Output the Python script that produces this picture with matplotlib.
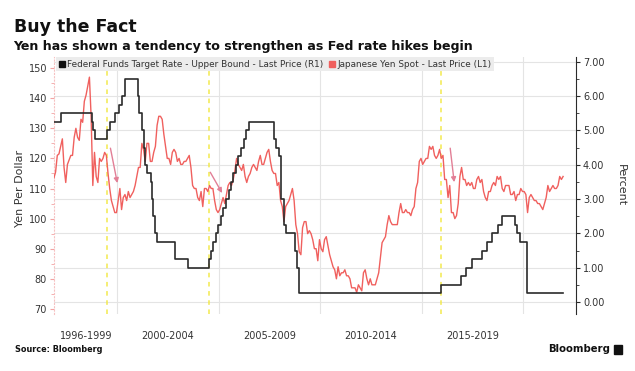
import numpy as np
import pandas as pd
import matplotlib
matplotlib.use("Agg")
import matplotlib.pyplot as plt
from matplotlib.lines import Line2D
from matplotlib.patches import Rectangle
from matplotlib.transforms import blended_transform_factory

# USD/JPY, monthly readings (Nov 1996 .. Dec 2021)
yen_1996_1999 = [113.5, 115.5,
                 121, 121.5, 124, 126.5, 117, 112, 118, 119.5, 121, 121, 127, 130,
                 127, 126, 133, 132, 139, 141, 144, 147, 134, 111, 122, 114,
                 112, 120, 119, 120, 122, 121, 115, 110, 106, 104, 102, 102]
yen_2000_2004 = [106, 110, 103, 107, 108, 106, 109, 107, 108, 109, 111, 114,
                 117, 117, 125, 123, 119, 125, 125, 119, 119, 122, 124, 131,
                 134, 134, 133, 128, 124, 120, 120, 118, 122, 123, 122, 119,
                 120, 118, 118, 119, 119, 120, 121, 117, 111, 110, 110, 107,
                 106, 109, 104, 110, 110, 109, 111, 110, 110, 106, 103, 102]
yen_2005_2009 = [103, 105, 107, 105, 108, 111, 112, 111, 113, 116, 120, 118,
                 117, 116, 118, 114, 112, 114, 115, 117, 118, 117, 116, 119,
                 121, 118, 118, 120, 122, 123, 119, 116, 115, 115, 111, 112,
                 106, 104, 99, 104, 105, 106, 108, 110, 106, 98, 95, 89,
                 88, 97, 99, 99, 95, 96, 95, 93, 90, 90, 86, 93]
yen_2010_2014 = [90, 89, 93, 94, 91, 88, 86, 84, 83, 80, 84, 81,
                 82, 82, 83, 81, 81, 80, 77, 77, 77, 75.5, 78, 77,
                 76, 82, 83, 80, 78, 80, 78, 78, 78, 80, 82, 87,
                 92, 93, 94, 98, 101, 99, 98, 98, 98, 98, 102, 105,
                 102, 102, 103, 102, 102, 101, 103, 104, 110, 112, 119, 120]
yen_2015_2021 = [118, 119, 120, 120, 124, 123, 124, 121, 120, 121, 123, 120,
                 121, 113, 113, 107, 111, 102, 102, 100, 101, 105, 114, 117,
                 113, 113, 111, 112, 111, 112, 110, 110, 113, 114, 112, 113,
                 109, 107, 106, 109, 109, 111, 112, 111, 114, 113, 114, 110,
                 109, 111, 111, 111, 108, 108, 109, 106, 108, 108, 110, 109,
                 109, 108, 102, 107, 108, 107, 106, 106, 105, 105, 104, 103,
                 105, 107, 111, 109, 110, 111, 110, 110, 111, 114, 113, 114]

# Fed funds target rate, upper bound: dates of changes and new level
fed_dates = ['1996-11-15', '1997-03-25', '1998-09-29', '1998-10-15', '1998-11-17',
             '1999-06-30', '1999-08-24', '1999-11-16', '2000-02-02', '2000-03-21',
             '2000-05-16', '2001-01-03', '2001-01-31', '2001-03-20', '2001-04-18',
             '2001-05-15', '2001-06-27', '2001-08-21', '2001-09-17', '2001-10-02',
             '2001-11-06', '2001-12-11', '2002-11-06', '2003-06-25', '2004-06-30',
             '2004-08-10', '2004-09-21', '2004-11-10', '2004-12-14', '2005-02-02',
             '2005-03-22', '2005-05-03', '2005-06-30', '2005-08-09', '2005-09-20',
             '2005-11-01', '2005-12-13', '2006-01-31', '2006-03-28', '2006-05-10',
             '2006-06-29', '2007-09-18', '2007-10-31', '2007-12-11', '2008-01-22',
             '2008-01-30', '2008-03-18', '2008-04-30', '2008-10-08', '2008-10-29',
             '2008-12-16', '2015-12-16', '2016-12-14', '2017-03-15', '2017-06-14',
             '2017-12-13', '2018-03-21', '2018-06-13', '2018-09-26', '2018-12-19',
             '2019-07-31', '2019-09-18', '2019-10-30', '2020-03-03', '2020-03-15',
             '2021-12-15']
fed_rates = [5.25, 5.50, 5.25, 5.00, 4.75,
             5.00, 5.25, 5.50, 5.75, 6.00,
             6.50, 6.00, 5.50, 5.00, 4.50,
             4.00, 3.75, 3.50, 3.00, 2.50,
             2.00, 1.75, 1.25, 1.00, 1.25,
             1.50, 1.75, 2.00, 2.25, 2.50,
             2.75, 3.00, 3.25, 3.50, 3.75,
             4.00, 4.25, 4.50, 4.75, 5.00,
             5.25, 4.75, 4.50, 4.25, 3.50,
             3.00, 2.25, 2.00, 1.50, 1.00,
             0.25, 0.50, 0.75, 1.00, 1.25,
             1.50, 1.75, 2.00, 2.25, 2.50,
             2.25, 2.00, 1.75, 1.25, 0.25,
             0.25]

hike_starts = ['1999-06-30', '2004-06-30', '2015-12-16']
# arrows after each hike start: (date, yen) at tail and at head
arrow_from = [('1999-08-30', 123.4), ('2004-07-30', 115.4), ('2016-05-25', 123.4)]
arrow_to = [('2000-01-01', 111.8), ('2005-03-01', 108.5), ('2016-08-05', 112.1)]

period_labels = ['1996-1999', '2000-2004', '2005-2009', '2010-2014', '2015-2019']
period_centers = [1998.45, 2002.5, 2007.5, 2012.5, 2017.5]
period_bounds = [2000, 2005, 2010, 2015, 2020]
yen_ticks = [70, 80, 90, 100, 110, 120, 130, 140, 150]
pct_ticks = [0, 1, 2, 3, 4, 5, 6, 7]


def dec_year(s):
    d = pd.Timestamp(s)
    return d.year + (d.dayofyear - 1) / 365.25


yen = np.array(yen_1996_1999 + yen_2000_2004 + yen_2005_2009 + yen_2010_2014 + yen_2015_2021)
yen_x = 1996 + (10 + np.arange(len(yen)) + 0.5) / 12
fed_x = [dec_year(d) for d in fed_dates]

RED = '#f0605e'
BLACK = '#2b2b2b'
GRID = '#e4e4e4'
TXT = '#333333'

fig = plt.figure(figsize=(6.35, 3.71), dpi=100)
ax = fig.add_axes([54 / 635, 1 - 314 / 371, 522 / 635, 257 / 371])
ax2 = ax.twinx()

x0 = 1996.88
ax.set_xlim(x0, x0 + 522 / 20.3)
ax.set_ylim(68.3, 153.7)
ax2.set_ylim(-0.35, 7.14)

# grid: verticals at period bounds, horizontals following the right axis
for b in period_bounds:
    ax.axvline(b, color=GRID, lw=0.8, zorder=0)
tr = blended_transform_factory(ax.transAxes, ax2.transData)
for p in pct_ticks:
    ax.plot([0, 1], [p, p], transform=tr, color=GRID, lw=0.8, zorder=0)

for h in hike_starts:
    ax.axvline(dec_year(h), color='#f2e94e', lw=1.1, ls=(0, (3, 3)), zorder=1)

ax.plot(yen_x, yen, color=RED, lw=1.0, zorder=3)
ax2.plot(fed_x, fed_rates, color=BLACK, lw=1.2, drawstyle='steps-post', zorder=3)

for (d0, v0), (d1, v1) in zip(arrow_from, arrow_to):
    ax.annotate('', xy=(dec_year(d1), v1), xytext=(dec_year(d0), v0),
                arrowprops=dict(arrowstyle='-|>', color='#e27f96', lw=1.0,
                                mutation_scale=7, shrinkA=0, shrinkB=0), zorder=4)

# left axis (yen)
ax.set_yticks(yen_ticks)
ax.set_yticks(np.arange(70, 155, 5), minor=True)
ax.tick_params(axis='y', which='major', colors='#f3a3a3', labelcolor=TXT,
               labelsize=7, length=3, width=0.8, pad=2)
ax.tick_params(axis='y', which='minor', colors='#f3a3a3', length=2, width=0.6)
ax.spines['left'].set_color('#f6c2c2')
ax.spines['left'].set_linestyle((0, (1, 2)))
ax.spines['left'].set_linewidth(0.8)
for s in ['top', 'right', 'bottom']:
    ax.spines[s].set_visible(False)
for s in ['top', 'left', 'bottom']:
    ax2.spines[s].set_visible(False)

# x labels
ax.set_xticks(period_centers)
ax.set_xticklabels(period_labels)
ax.tick_params(axis='x', length=0, labelsize=7, labelcolor=TXT, pad=12.5)

# right axis (percent)
ax2.set_yticks(pct_ticks)
ax2.set_yticklabels([f'{p:.2f}' for p in pct_ticks])
ax2.set_yticks(np.arange(0, 7.01, 0.5), minor=True)
ax2.tick_params(axis='y', which='major', colors=BLACK, labelcolor=TXT,
                labelsize=7, length=3, width=0.8, pad=2)
ax2.tick_params(axis='y', which='minor', colors=BLACK, length=2, width=0.6)
ax2.spines['right'].set_color(BLACK)
ax2.spines['right'].set_linewidth(0.8)

fig.text(20 / 635, 1 - 188 / 371, 'Yen Per Dollar', rotation=90, ha='center',
         va='center', fontsize=8, color=TXT)
fig.text(621 / 635, 1 - 185 / 371, 'Percent', rotation=270, ha='center',
         va='center', fontsize=8, color=TXT)

handles = [Line2D([], [], marker='s', ls='none', color='#111111', markersize=4.5),
           Line2D([], [], marker='s', ls='none', color=RED, markersize=4.5)]
leg = ax2.legend(handles, ['Federal Funds Target Rate - Upper Bound - Last Price (R1)',
                           'Japanese Yen Spot - Last Price (L1)'],
                 loc='upper left', bbox_to_anchor=(0.004, 1.0), ncol=2,
                 fontsize=6.4, frameon=True, facecolor='#ececec', edgecolor='none',
                 framealpha=1, fancybox=False, handlelength=0.7, handletextpad=0.25,
                 columnspacing=0.6, borderpad=0.3, borderaxespad=0)
for t in leg.get_texts():
    t.set_color(TXT)
leg.set_zorder(10)

fig.text(14 / 635, 1 - 32 / 371, 'Buy the Fact', fontsize=12.5, fontweight='bold',
         color='#111111', va='baseline')
fig.text(13 / 635, 1 - 50 / 371, 'Yen has shown a tendency to strengthen as Fed rate hikes begin',
         fontsize=9.05, fontweight='bold', color='#111111', va='baseline')
fig.text(15 / 635, 1 - 350 / 371, 'Source: Bloomberg', fontsize=5.9, fontweight='bold',
         color='#111111', va='center')
fig.text(548 / 635, 1 - 349 / 371, 'Bloomberg', fontsize=7.3, fontweight='bold',
         color='#111111', va='center')
fig.patches.append(Rectangle((614 / 635, 1 - 354 / 371), 8 / 635, 9 / 371,
                             transform=fig.transFigure, color='#111111'))

fig.savefig('out.png', dpi=100)
